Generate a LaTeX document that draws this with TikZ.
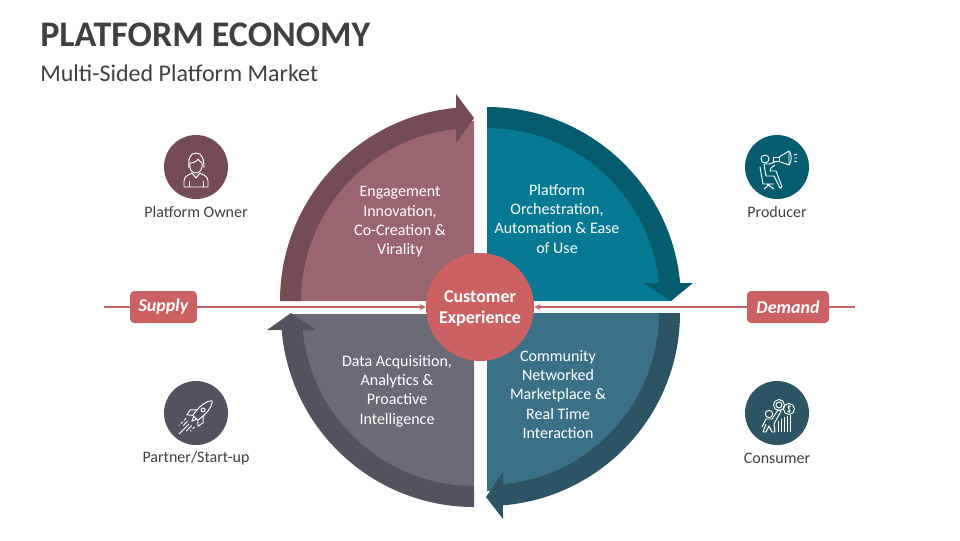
\documentclass[tikz,border=0pt]{standalone}
\usepackage{fontspec}
\setmainfont{Carlito}
\definecolor{ownerlight}{HTML}{9A656F}
\definecolor{ownerdark}{HTML}{754C53}
\definecolor{producerlight}{HTML}{067A94}
\definecolor{producerdark}{HTML}{045C6E}
\definecolor{consumerlight}{HTML}{3B7186}
\definecolor{consumerdark}{HTML}{2D5463}
\definecolor{partnerlight}{HTML}{6B6B78}
\definecolor{partnerdark}{HTML}{53525E}
\definecolor{corered}{HTML}{CC6163}
\definecolor{textgrey}{HTML}{404040}
\tikzset{
quadtext/.style={text=white,align=center,font=\fontsize{12}{14.5}\selectfont},
iconline/.style={draw=white,line width=0.7pt},
iconcircle/.style={circle,minimum size=48pt,inner sep=0pt},
iconlabel/.style={text=textgrey,font=\fontsize{12}{14}\selectfont},
sidebox/.style={fill=corered,rounded corners=3pt,text=white,minimum height=24pt,inner sep=0pt,font=\fontsize{13.5}{15}\selectfont\bfseries\itshape},
redline/.style={corered,line width=1.1pt},
}
\begin{document}
\begin{tikzpicture}[>=stealth,line join=round,x=0.75pt,y=-0.75pt]
\useasboundingbox (0,0) rectangle (960,540);
\def\ra{194}
\def\rb{173}
\def\rc{193}
\def\rd{172}
\path
(474,301) coordinate (OA)
(487,301) coordinate (OB)
(487,313) coordinate (OC)
(474,314) coordinate (OD)
(104,307) coordinate (supplyend)
(855,307) coordinate (demandend)
;
%
\node[anchor=west,inner sep=0pt,text=textgrey,font=\fontsize{27}{30}\selectfont\bfseries] (title) at (40,35) {PLATFORM ECONOMY};
\node[anchor=west,inner sep=0pt,text=textgrey,font=\fontsize{18}{21}\selectfont] (subtitle) at (40,73) {Multi-Sided Platform Market};
%
\fill[ownerlight] (OA)--++(-180,0) arc (180:270:180)--cycle;
\fill[producerlight] (OB)--++(184,0) arc (0:-90:184)--cycle;
\fill[consumerlight] (OC)--++(178,0) arc (0:90:178)--cycle;
\fill[partnerlight] (OD)--++(-183,0) arc (180:90:183)--cycle;
%
\fill[ownerdark] (280,301) arc (180:264.68:\ra)--(456,94)--(474,118)--(456,143)--(456,128.94) arc (264.03:180:\rb)--cycle;
\fill[producerdark] (487,107) arc (270:354.68:\ra)--(693,283)--(671,301)--(643,283)--(659.06,283) arc (354.03:270:\rb)--cycle;
\fill[consumerdark] (680,313) arc (0:85.25:\rc)--(503,519)--(486,497)--(503,472)--(503,484.25) arc (84.66:0:\rd)--cycle;
\fill[partnerdark] (474,507) arc (90:175.25:\rc)--(267,330)--(291,313)--(316,330)--(302.75,330) arc (174.66:90:\rd)--cycle;
%
\node[quadtext] (engagement) at (400,222) {Engagement\\Innovation,\\Co-Creation \&\\Virality};
\node[quadtext] (orchestration) at (557,218.5) {Platform\\Orchestration,\\Automation \& Ease\\of Use};
\node[quadtext] (acquisition) at (397,391) {Data Acquisition,\\Analytics \&\\Proactive\\Intelligence};
\node[quadtext] (community) at (558,394.5) {Community\\Networked\\Marketplace \&\\Real Time\\Interaction};
%
\node[circle,fill=corered,minimum size=81pt,inner sep=0pt,text=white,align=center,font=\fontsize{13.5}{15.8}\selectfont\bfseries] (core) at (480,307) {};
\node[text=white,align=center,inner sep=0pt,font=\fontsize{13.5}{15.8}\selectfont\bfseries] (corelabel) at (480,308.5) {Customer\\Experience};
\node[sidebox,minimum width=50pt] (supply) at (163.5,307) {Supply};
\node[sidebox,minimum width=61.5pt] (demand) at (788,307) {Demand};
\draw[redline] (supplyend)--(supply);
\draw[redline,->] (supply)--(core);
\draw[redline] (demandend)--(demand);
\draw[redline,->] (demand)--(core);
%
\foreach \x/\y/\z/\c/\t in {owner/196/167/ownerdark/{Platform Owner},producer/777/167/producerdark/{Producer},partner/196/413/partnerdark/{Partner/Start-up},consumer/777/413/consumerdark/{Consumer}}{
\node[iconcircle,fill=\c] (\x) at (\y,\z) {};
\node[iconlabel] (\x label) at (\y,\z+45) {\t};
}
% owner
\begin{scope}[shift={(owner)},iconline]
\draw (-7,1) .. controls (-8,-8) and (-6,-14) .. (0,-14) .. controls (6,-14) and (8,-8) .. (8,1);
\draw (-6,-4) .. controls (-2,-4) and (1,-6) .. (2,-8) .. controls (3,-6) and (5,-5) .. (6,-4) .. controls (7,3) and (3,6) .. (0,6) .. controls (-4,6) and (-7,3) .. (-6,-4);
\draw (-4,6)--(0,11)--(4,6);
\draw (-4,6) .. controls (-7,8) and (-12,9) .. (-12,14)--(-12,20)--(12,20)--(12,14) .. controls (12,9) and (7,8) .. (4,6);
\draw (-7,14)--(-7,20) (7,14)--(7,20);
\end{scope}
% producer
\begin{scope}[shift={(producer)},iconline]
\draw (-12,-8) circle (4);
\draw (-4,-10) rectangle (2,-5.5);
\draw (2,-10)--(12,-16)--(12,-2)--(2,-5.5);
\draw (12,-16) .. controls (15,-13) and (15,-5) .. (12,-2);
\draw (17,-12)--(20,-13) (17,-9)--(20,-9) (17,-6)--(20,-5);
\draw (-13,-3)--(-8,-3)--(-2,-5) (-2,-2)--(-6,1)--(-7,4)--(-1,4)--(5,20)--(3,21)--(-3,9)--(-11,9)--(-13,-3);
\draw (-17,0)--(-14,17)--(-3,17);
\draw (-13,22)--(-7,17) (-3,22)--(-10,17);
\end{scope}
% partner
\begin{scope}[shift={(partner)},shift={(0,4)},rotate=-45,iconline]
\draw (0,-23) .. controls (5,-18) and (5,-8) .. (3.5,1)--(-3.5,1) .. controls (-5,-8) and (-5,-18) .. (0,-23);
\draw (0,-10) circle (2);
\draw (-4,-6)--(-9,-1)--(-8,5)--(-3.5,1);
\draw (4,-6)--(9,-1)--(8,5)--(3.5,1);
\draw (-2,1)--(0,6)--(2,1);
\draw (-3,9)--(-3,15) (0,10)--(0,24) (3,9)--(3,17);
\draw[dash pattern=on 2pt off 1.5pt] (-6,8)--(-6,18) (6,8)--(6,14);
\end{scope}
% consumer
\begin{scope}[shift={(consumer)},iconline]
\draw (-8,1) circle (3.7);
\draw (2,-8) circle (5.5) (2,-8) circle (3);
\draw (12,-4) circle (5.5);
\draw (13.5,-6.5) .. controls (11,-8) and (10,-5) .. (12,-4) .. controls (14,-3) and (13,0) .. (10.5,-1.5) (12,-8)--(12,0);
\draw (-15,14)--(-11,6)--(-5,6)--(1,-3)--(4,-2)--(-3,11)--(-2,19)--(-5,19)--(-8,13)--(-11,19)--(-14,19)--(-11,11);
\draw (1,19)--(1,8) (4,19)--(4,6) (7,19)--(7,4) (10,19)--(10,3) (13,19)--(13,2);
\end{scope}
\end{tikzpicture}
\end{document}
